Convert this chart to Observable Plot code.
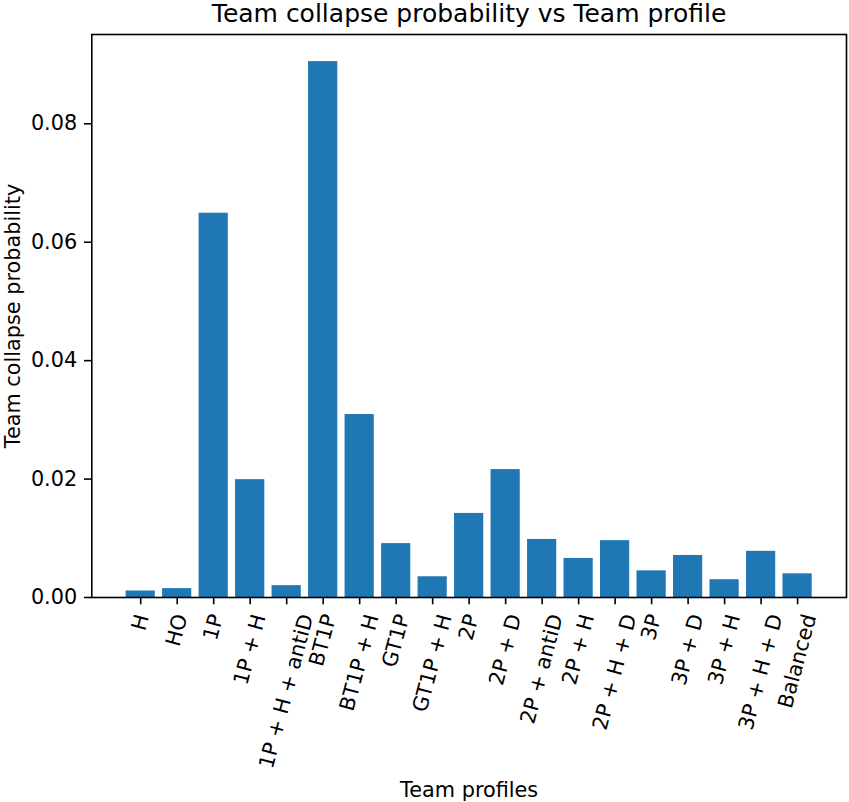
<!DOCTYPE html>
<html>
<head>
<meta charset="utf-8">
<script src="https://cdn.jsdelivr.net/npm/d3@7"></script>
<script src="https://cdn.jsdelivr.net/npm/@observablehq/plot@0.6"></script>
<style>
  html, body { margin: 0; padding: 0; background: #fff; }
  svg { font-family: "DejaVu Sans", sans-serif; }
</style>
</head>
<body>
<div id="chart"></div>
<script>
const categories = ["H", "HO", "1P", "1P + H", "1P + H + antiD", "BT1P", "BT1P + H", "GT1P", "GT1P + H", "2P", "2P + D", "2P + antiD", "2P + H", "2P + H + D", "3P", "3P + D", "3P + H", "3P + H + D", "Balanced"];
const values = [0.0011, 0.0015, 0.0649, 0.0199, 0.0020, 0.0905, 0.0309, 0.0091, 0.0035, 0.0142, 0.0216, 0.0098, 0.0066, 0.0096, 0.0045, 0.0071, 0.0030, 0.0078, 0.0040];
const yTicks = [0, 0.02, 0.04, 0.06, 0.08];
const title = "Team collapse probability vs Team profile";
const xLabel = "Team profiles";
const yLabel = "Team collapse probability";

const data = categories.map((c, i) => ({cat: c, v: values[i]}));

const FS = 20.8;
const chart = Plot.plot({
  width: 849,
  height: 802,
  marginLeft: 91.3,
  marginRight: 3,
  marginTop: 34,
  marginBottom: 205,
  style: {fontFamily: "DejaVu Sans, sans-serif", color: "black", background: "white"},
  x: {type: "band", domain: categories, paddingInner: 0.2, paddingOuter: 0.94, align: 0.5, round: false},
  y: {domain: [0, 0.09508]},
  marks: [
    Plot.barY(data, {x: "cat", y: "v", fill: "#1f77b4"}),
    Plot.axisY({ticks: yTicks, tickFormat: d3.format(".2f"), tickSize: 7.3, tickPadding: 7.3, fontSize: FS, strokeWidth: 1.6, label: null}),
    Plot.axisX({tickSize: 7.3, strokeWidth: 1.6, text: null, label: null}),
    Plot.text(categories, {x: d => d, frameAnchor: "bottom", dy: 20, rotate: -75, textAnchor: "end", lineAnchor: "middle", fontSize: FS, fill: "black"}),
    Plot.frame({stroke: "black", strokeWidth: 1.6}),
    Plot.text([title], {frameAnchor: "top", dy: -12.3, textAnchor: "middle", lineAnchor: "bottom", fontSize: 25, fill: "black"}),
    Plot.text([xLabel], {frameAnchor: "bottom", dy: 199.7, textAnchor: "middle", lineAnchor: "bottom", fontSize: FS, fill: "black"}),
    Plot.text([yLabel], {frameAnchor: "left", dx: -72.3, rotate: -90, textAnchor: "middle", lineAnchor: "bottom", fontSize: FS, fill: "black"})
  ]
});
document.getElementById("chart").append(chart);

// Center each rotated tick label on its tick (matplotlib ha="center", va="top")
const xs = chart.scale("x");
const svgRect = chart.getBoundingClientRect();
const textGroups = chart.querySelectorAll('g[aria-label="text"]');
const labels = textGroups.length ? textGroups[0].querySelectorAll("text") : [];
const topY = 34 + (802 - 34 - 205) + 14.6;
labels.forEach((t, i) => {
  if (i >= categories.length) return;
  const r = t.getBoundingClientRect();
  const cx = r.left - svgRect.left + r.width / 2;
  const ty = r.top - svgRect.top;
  const wantX = xs.apply(categories[i]) + xs.bandwidth / 2;
  const dx = wantX - cx, dy = topY - ty;
  t.setAttribute("transform", `translate(${dx},${dy}) ` + (t.getAttribute("transform") || ""));
});
</script>
</body>
</html>
